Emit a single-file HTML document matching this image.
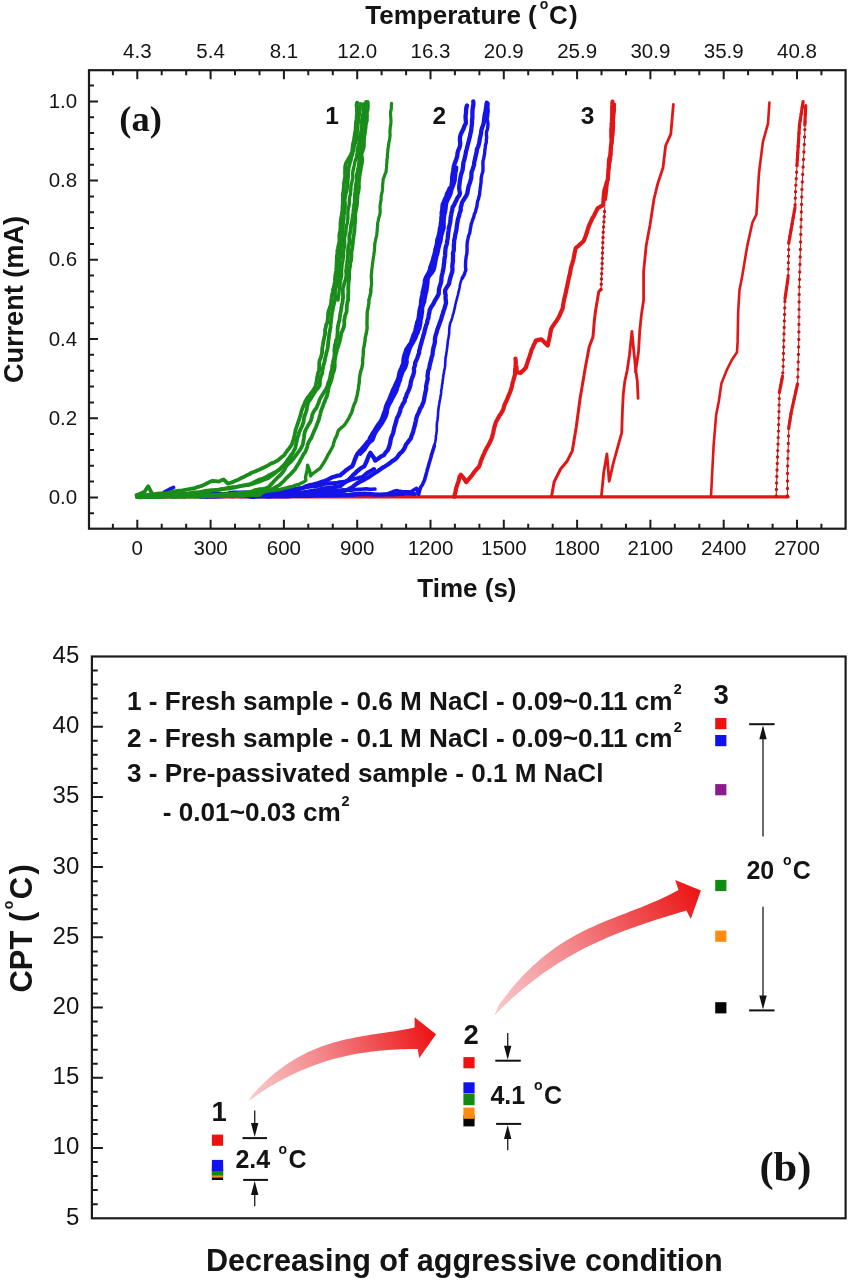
<!DOCTYPE html>
<html><head><meta charset="utf-8"><title>CPT figure</title>
<style>html,body{margin:0;padding:0;background:#fff;}body{width:848px;height:1280px;overflow:hidden;}svg{display:block;}</style>
</head><body>
<svg width="848" height="1280" viewBox="0 0 848 1280"><rect x="89.0" y="70.2" width="756.6" height="458.5" fill="none" stroke="#1c1c1c" stroke-width="2.2"/>
<path d="M112.9 528.7v-5M112.9 70.2v5M137.3 528.7v-9M137.3 70.2v9M161.7 528.7v-5M161.7 70.2v5M186.2 528.7v-5M186.2 70.2v5M210.6 528.7v-9M210.6 70.2v9M235.0 528.7v-5M235.0 70.2v5M259.5 528.7v-5M259.5 70.2v5M283.9 528.7v-9M283.9 70.2v9M308.3 528.7v-5M308.3 70.2v5M332.8 528.7v-5M332.8 70.2v5M357.2 528.7v-9M357.2 70.2v9M381.6 528.7v-5M381.6 70.2v5M406.1 528.7v-5M406.1 70.2v5M430.5 528.7v-9M430.5 70.2v9M454.9 528.7v-5M454.9 70.2v5M479.4 528.7v-5M479.4 70.2v5M503.8 528.7v-9M503.8 70.2v9M528.2 528.7v-5M528.2 70.2v5M552.7 528.7v-5M552.7 70.2v5M577.1 528.7v-9M577.1 70.2v9M601.5 528.7v-5M601.5 70.2v5M626.0 528.7v-5M626.0 70.2v5M650.4 528.7v-9M650.4 70.2v9M674.8 528.7v-5M674.8 70.2v5M699.3 528.7v-5M699.3 70.2v5M723.7 528.7v-9M723.7 70.2v9M748.1 528.7v-5M748.1 70.2v5M772.6 528.7v-5M772.6 70.2v5M797.0 528.7v-9M797.0 70.2v9M821.4 528.7v-5M821.4 70.2v5M89.0 513.2h5M89.0 497.4h9M89.0 481.6h5M89.0 465.7h5M89.0 449.9h5M89.0 434.0h5M89.0 418.2h9M89.0 402.4h5M89.0 386.5h5M89.0 370.7h5M89.0 354.8h5M89.0 339.0h9M89.0 323.2h5M89.0 307.3h5M89.0 291.5h5M89.0 275.6h5M89.0 259.8h9M89.0 244.0h5M89.0 228.1h5M89.0 212.3h5M89.0 196.4h5M89.0 180.6h9M89.0 164.8h5M89.0 148.9h5M89.0 133.1h5M89.0 117.2h5M89.0 101.4h9M89.0 85.6h5" stroke="#1c1c1c" stroke-width="2" fill="none"/>
<g style="font-family:'Liberation Sans',Arial,sans-serif;font-size:20.5px" fill="#141414"><text x="137.3" y="555.3" text-anchor="middle">0</text><text x="137.3" y="57.6" text-anchor="middle">4.3</text><text x="210.6" y="555.3" text-anchor="middle">300</text><text x="210.6" y="57.6" text-anchor="middle">5.4</text><text x="283.9" y="555.3" text-anchor="middle">600</text><text x="283.9" y="57.6" text-anchor="middle">8.1</text><text x="357.2" y="555.3" text-anchor="middle">900</text><text x="357.2" y="57.6" text-anchor="middle">12.0</text><text x="430.5" y="555.3" text-anchor="middle">1200</text><text x="430.5" y="57.6" text-anchor="middle">16.3</text><text x="503.8" y="555.3" text-anchor="middle">1500</text><text x="503.8" y="57.6" text-anchor="middle">20.9</text><text x="577.1" y="555.3" text-anchor="middle">1800</text><text x="577.1" y="57.6" text-anchor="middle">25.9</text><text x="650.4" y="555.3" text-anchor="middle">2100</text><text x="650.4" y="57.6" text-anchor="middle">30.9</text><text x="723.7" y="555.3" text-anchor="middle">2400</text><text x="723.7" y="57.6" text-anchor="middle">35.9</text><text x="797.0" y="555.3" text-anchor="middle">2700</text><text x="797.0" y="57.6" text-anchor="middle">40.8</text><text x="77.2" y="504.0" text-anchor="end">0.0</text><text x="77.2" y="424.8" text-anchor="end">0.2</text><text x="77.2" y="345.6" text-anchor="end">0.4</text><text x="77.2" y="266.4" text-anchor="end">0.6</text><text x="77.2" y="187.2" text-anchor="end">0.8</text><text x="77.2" y="108.0" text-anchor="end">1.0</text></g>
<g style="font-family:'Liberation Sans',Arial,sans-serif;font-weight:bold" fill="#141414"><text x="365.3" y="24.2" font-size="26">Temperature (</text><text x="539.7" y="8.9" font-size="14">o</text><text x="548.9" y="24.2" font-size="26">C</text><text x="569" y="24.2" font-size="26">)</text><text x="417.3" y="597.2" font-size="26">Time (s)</text><text transform="translate(23,383.1) rotate(-90)" x="0" y="0" font-size="27.1">Current (mA)</text></g>
<text x="119.3" y="131.3" style="font-family:'Liberation Serif','Times New Roman',serif;font-size:36.5px;font-weight:bold" fill="#141414">(a)</text>
<g style="font-family:'Liberation Sans',Arial,sans-serif;font-size:24.5px;font-weight:bold" fill="#141414"><text x="325.2" y="124.3">1</text><text x="432.5" y="124.3">2</text><text x="580.8" y="124.3">3</text></g>
<g><path d="M137.3 496.8 L788.1 496.8" stroke="#e21616" stroke-width="3.2" fill="none" stroke-linejoin="round" stroke-linecap="round" /><path d="M454.3 496.7 L454.8 494.3 L455.5 491.8 L455.9 489.4 L456.6 486.8 L457.4 484.3 L458.4 481.7 L459.0 479.4 L459.5 476.9 L460.9 474.7 L462.8 477.1 L464.6 479.5 L466.2 482.1 L467.8 480.1 L469.6 478.2 L471.2 476.2 L472.8 474.2 L474.1 472.2 L475.7 470.2 L477.4 468.5 L479.0 466.6 L480.1 464.0 L480.8 461.2 L482.0 458.4 L483.0 455.8 L484.2 453.3 L485.2 450.9 L486.6 448.2 L488.2 445.7 L489.5 443.0 L490.8 440.4 L491.9 437.8 L492.5 435.2 L493.2 432.7 L493.7 430.2 L494.3 427.5 L495.1 425.0 L495.8 422.3 L497.0 420.2 L498.2 418.0 L499.4 415.8 L500.9 413.7 L502.1 411.7 L503.3 409.4 L504.0 406.6 L504.9 403.9 L506.1 401.5 L507.3 398.9 L508.3 396.4 L509.4 393.8 L510.4 391.3 L511.4 388.6 L512.0 385.9 L512.5 383.2 L513.3 380.8 L513.9 378.3 L514.7 375.7 L515.1 373.0 L515.1 370.3 L515.4 367.5 L515.6 364.6 L515.8 361.5 L515.5 358.6 L515.7 361.4 L516.0 364.2 L516.4 366.8 L516.6 369.4 L516.5 371.9 L520.4 373.1 L523.1 370.4 L525.8 367.8 L526.6 365.1 L527.4 362.7 L528.2 360.1 L529.3 357.4 L530.1 354.7 L530.9 352.3 L531.5 350.0 L532.8 347.5 L533.7 345.1 L535.0 342.7 L535.8 340.6 L538.6 339.9 L541.3 339.3 L543.6 341.4 L545.6 343.5 L547.7 345.5 L548.3 342.6 L549.0 340.0 L549.6 337.3 L550.1 334.4 L550.6 331.6 L551.3 328.8 L552.5 326.6 L554.0 324.4 L555.3 322.4 L556.9 320.3 L558.1 318.2 L559.4 316.0 L560.5 313.2 L561.7 310.6 L562.8 308.0 L563.0 305.5 L563.5 302.8 L564.0 300.1 L564.7 297.3 L565.3 294.7 L565.9 292.0 L566.4 289.4 L567.0 286.9 L567.5 284.4 L568.1 281.7 L568.6 279.2 L569.1 276.7 L569.8 274.5 L570.2 272.1 L570.6 269.7 L571.1 267.2 L571.9 264.7 L572.7 262.2 L573.4 259.4 L574.0 256.5 L574.5 253.6 L575.1 250.7 L575.8 247.9 L577.9 246.4 L579.6 244.7 L581.5 243.0 L583.4 241.3 L584.5 238.8 L585.5 236.5 L586.3 234.1 L587.1 231.7 L587.8 229.2 L588.8 226.3 L589.9 223.6 L591.2 221.0 L592.3 218.4 L593.9 215.9 L595.2 213.2 L596.4 210.7 L597.7 208.3 L600.3 206.7 L603.2 205.1 L603.3 202.3 L603.5 199.5 L603.7 196.6 L604.0 193.6 L604.3 190.8 L605.1 188.2 L605.9 185.5 L606.6 182.8 L607.7 179.9 L608.0 177.3 L608.1 174.8 L608.3 172.3 L608.4 169.9 L608.8 167.4 L608.8 164.9 L608.9 162.2 L609.1 159.7 L609.7 157.2 L610.3 154.7 L610.5 152.2 L610.7 149.5 L610.8 147.0 L611.2 144.3 L611.4 141.9 L611.6 139.5 L611.3 136.9 L611.3 134.4 L611.3 131.9 L611.3 129.4 L611.6 127.0 L611.6 124.3 L611.9 121.7 L612.0 119.1 L612.1 116.5 L612.2 114.0 L612.2 111.6 L612.2 109.3 L612.2 106.8 L612.4 104.2 L612.5 101.7" stroke="#e21616" stroke-width="4.2" fill="none" stroke-linejoin="round" stroke-linecap="round" /><path d="M605.5 200.0 L606.0 197.4 L606.4 194.9 L606.6 192.4 L606.9 189.8 L607.2 187.2 L607.4 184.6 L607.7 182.0 L608.0 179.3 L608.2 176.6 L608.4 173.8 L608.7 171.0 L609.2 168.3 L609.7 165.5 L610.2 162.8 L610.8 160.0 L610.9 157.4 L611.3 155.0 L611.3 152.5 L611.4 150.1 L611.6 147.3 L611.9 144.9 L612.5 142.3 L612.6 140.0 L612.9 137.4 L613.2 135.0 L613.5 132.4 L613.6 130.0 L613.8 127.2 L613.8 124.8 L613.9 122.2 L613.7 119.7 L614.0 117.1 L614.3 114.4 L614.6 111.7 L614.8 109.1 L614.6 106.6 L614.8 104.0" stroke="#e21616" stroke-width="2.6" fill="none" stroke-linejoin="round" stroke-linecap="round" /><path d="M551.5 496.7 L554.1 482.0 L560.6 469.0 L567.1 461.2 L572.3 450.8 L576.2 427.5 L580.0 399.0 L585.3 367.8 L589.2 347.0 L593.0 336.7 L594.4 320.0 L595.5 311.3 L598.8 291.6 L601.0 289.4" stroke="#e21616" stroke-width="3.0" fill="none" stroke-linejoin="round" stroke-linecap="round" /><path d="M601.0 289.4 L602.0 267.5 L603.1 234.7 L604.8 207.4" stroke="#e21616" stroke-width="1.2" fill="none" stroke-linejoin="round" stroke-linecap="round" /><path d="M601.0 289.4 L602.0 267.5 L603.1 234.7 L604.8 207.4" stroke="#c81212" stroke-width="3.4" fill="none" stroke-linejoin="round" stroke-linecap="round" stroke-dasharray="0 5.2"/><path d="M601.4 496.0 L603.8 471.9 L606.9 453.9 L609.2 481.3 L613.1 464.0 L617.8 446.9 L621.7 432.8 L622.5 409.4 L623.3 393.8 L624.8 381.3 L627.2 370.3 L629.5 354.7 L631.9 331.3 L633.4 346.9 L635.8 370.3 L637.3 381.3 L638.1 398.4" stroke="#e21616" stroke-width="2.8" fill="none" stroke-linejoin="round" stroke-linecap="round" /><path d="M635.5 372.0 L638.5 352.0 L639.7 331.3 L641.3 315.6 L643.6 300.0 L643.6 271.6 L646.2 245.6 L650.0 224.9 L654.0 199.0 L657.8 183.4 L663.0 167.8 L665.6 145.8 L670.8 134.1 L673.4 104.3" stroke="#e21616" stroke-width="2.8" fill="none" stroke-linejoin="round" stroke-linecap="round" /><path d="M711.0 496.2 L713.6 445.6 L716.2 414.5 L718.8 401.5 L721.4 383.4 L726.6 370.4 L731.8 360.0 L737.0 352.3 L737.6 341.9 L738.2 310.8 L739.5 290.0 L742.1 276.8 L747.3 245.6 L752.5 222.3 L756.4 214.5 L759.0 173.0 L762.9 141.9 L768.0 123.7 L769.4 102.5" stroke="#e21616" stroke-width="2.6" fill="none" stroke-linejoin="round" stroke-linecap="round" /><path d="M776.2 496.0 L776.9 473.8 L778.5 430.0 L779.4 392.5 L782.5 376.2 L783.1 370.0 L783.8 340.0 L785.0 298.8 L788.1 277.5 L788.8 242.5 L795.0 207.5 L795.6 190.0 L797.0 165.0 L799.5 125.0 L803.1 101.7" stroke="#d41818" stroke-width="1.1" fill="none" stroke-linejoin="round" stroke-linecap="round" /><path d="M776.2 496.0 L776.9 473.8 L778.5 430.0 L779.4 392.5 L782.5 376.2 L783.1 370.0 L783.8 340.0 L785.0 298.8 L788.1 277.5 L788.8 242.5 L795.0 207.5 L795.6 190.0 L797.0 165.0 L799.5 125.0 L803.1 101.7" stroke="#c41414" stroke-width="3.3" fill="none" stroke-linejoin="round" stroke-linecap="round" stroke-dasharray="0 6.5"/><path d="M779.4 392.5 L782.5 376.2" stroke="#dc1616" stroke-width="3.2" fill="none" stroke-linejoin="round" stroke-linecap="round" /><path d="M785.0 298.8 L788.1 277.5" stroke="#dc1616" stroke-width="3.2" fill="none" stroke-linejoin="round" stroke-linecap="round" /><path d="M788.8 242.5 L795.0 207.5" stroke="#dc1616" stroke-width="3.2" fill="none" stroke-linejoin="round" stroke-linecap="round" /><path d="M797.0 165.0 L799.5 125.0 L803.1 101.7" stroke="#dc1616" stroke-width="3.2" fill="none" stroke-linejoin="round" stroke-linecap="round" /><path d="M787.5 496.0 L787.5 471.2 L788.8 427.5 L791.2 412.5 L797.5 383.8 L797.8 378.8 L798.8 340.0 L799.2 290.0 L800.5 245.6 L801.9 190.0 L804.4 141.9 L805.7 105.6" stroke="#d41818" stroke-width="1.1" fill="none" stroke-linejoin="round" stroke-linecap="round" /><path d="M787.5 496.0 L787.5 471.2 L788.8 427.5 L791.2 412.5 L797.5 383.8 L797.8 378.8 L798.8 340.0 L799.2 290.0 L800.5 245.6 L801.9 190.0 L804.4 141.9 L805.7 105.6" stroke="#c41414" stroke-width="3.3" fill="none" stroke-linejoin="round" stroke-linecap="round" stroke-dasharray="0 7.5"/><path d="M788.8 427.5 L791.2 412.5 L797.5 383.8" stroke="#dc1616" stroke-width="3.2" fill="none" stroke-linejoin="round" stroke-linecap="round" /><path d="M805.7 105.6 L804.8 125.0" stroke="#dc1616" stroke-width="3.2" fill="none" stroke-linejoin="round" stroke-linecap="round" /><path d="M140.0 496.0 L142.1 495.9 L144.7 495.6 L147.5 495.5 L149.7 495.3 L152.2 495.6 L154.5 495.6 L157.2 495.8 L159.7 495.4 L162.3 495.2 L165.5 495.1 L168.1 495.2 L170.6 495.4 L172.7 495.2 L175.0 495.1 L177.3 495.0 L179.8 494.9 L182.4 494.9 L184.8 494.9 L187.1 495.1 L189.4 495.0 L192.3 494.7 L195.2 494.4 L198.5 494.0 L200.7 494.2 L202.9 494.4 L204.9 494.6 L207.5 494.3 L210.1 493.9 L212.8 493.7 L215.1 493.7 L217.3 493.9 L220.0 494.0 L222.4 494.1 L225.5 493.9 L227.6 493.8 L230.2 493.2 L232.1 492.9 L234.5 492.6 L237.1 492.7 L240.0 492.7 L242.7 492.6 L245.1 492.7 L247.1 492.7 L249.7 492.6 L252.0 492.4 L254.7 492.3 L257.2 492.3 L259.8 492.2 L262.3 492.0 L264.7 491.6 L267.2 491.5 L269.8 491.1 L272.4 490.8 L274.9 490.5 L277.6 490.5 L280.4 490.4 L283.2 490.4 L285.4 490.1 L287.5 489.7 L289.9 489.4 L292.4 489.0 L295.3 489.0 L297.8 489.0 L300.4 488.9 L302.7 487.9 L305.4 486.6 L307.8 485.9 L310.3 485.1 L313.0 484.6 L315.7 483.9 L318.6 483.1 L321.3 482.1 L324.5 481.0 L327.3 479.9 L329.6 478.7 L332.1 477.3 L334.9 476.5 L337.8 475.6 L340.1 475.3 L341.8 473.8 L343.9 472.3 L345.8 470.4 L347.9 469.0 L349.9 467.6 L352.3 466.2 L353.3 463.9 L354.2 461.4 L355.1 458.8 L356.2 456.3 L357.4 453.9 L359.3 451.6 L361.6 449.3 L363.3 447.2 L365.3 444.9 L367.1 442.5 L369.3 440.2 L370.1 437.6 L371.6 435.4 L372.8 433.0 L374.5 430.9 L375.7 428.4 L377.7 425.4 L379.7 422.8 L381.4 420.1 L382.5 417.7 L383.4 414.8 L384.5 412.1 L385.2 409.8 L385.7 407.7 L386.4 405.5 L387.4 403.1 L388.8 400.6 L389.8 398.2 L390.8 395.4 L391.9 392.8 L392.9 390.1 L394.2 387.8 L395.1 385.5 L396.2 383.1 L397.4 380.6 L398.4 378.1 L398.9 375.6 L399.5 372.8 L400.3 370.4 L401.5 367.9 L402.3 365.9 L403.3 363.2 L403.4 360.3 L403.9 357.4 L404.5 354.8 L405.6 352.2 L406.2 349.7 L407.8 347.4 L409.3 345.0 L411.2 342.7 L411.6 340.5 L412.5 338.2 L413.3 335.5 L414.6 333.0 L415.3 330.5 L415.8 328.3 L416.5 325.8 L417.0 323.2 L417.9 320.5 L418.7 317.9 L419.0 315.3 L419.3 312.7 L419.6 310.1 L420.3 307.3 L420.9 304.9 L421.0 302.6 L421.3 300.1 L421.8 297.3 L422.4 294.6 L422.7 291.9 L423.4 289.7 L424.0 286.7 L424.7 283.6 L424.9 280.6 L425.8 277.7 L427.3 275.1 L428.9 272.3 L429.9 269.7 L430.3 267.3 L431.3 264.9 L432.0 262.5 L433.0 259.8 L433.5 257.2 L434.4 254.6 L434.9 252.2 L435.4 249.5 L436.2 246.9 L436.8 244.5 L437.1 242.0 L437.4 239.6 L438.3 236.9 L439.0 234.2 L439.6 231.2 L439.9 228.5 L440.7 225.9 L440.8 223.3 L441.4 220.4 L441.3 217.9 L441.8 215.5 L441.6 213.0 L442.2 210.1 L442.4 207.5 L442.6 204.7 L443.8 202.2 L444.8 199.4 L446.4 196.7 L446.9 193.8 L448.5 191.2 L449.5 188.6 L451.5 186.2 L451.7 183.6 L452.1 181.0 L452.1 178.5 L452.3 175.9 L452.8 173.2 L453.3 170.6 L453.5 168.1 L454.0 165.8 L454.8 163.1 L455.8 160.7 L456.6 158.3 L457.3 155.7 L457.5 153.1 L458.2 150.5 L459.1 148.6 L460.0 145.8 L460.2 142.9 L459.9 139.9 L460.0 137.2 L460.7 134.4 L462.1 131.5 L463.6 128.5 L464.4 126.0 L465.9 123.2 L465.8 120.6 L465.6 118.0 L465.6 115.5 L466.0 112.9 L466.1 110.2 L466.3 107.8 L467.0 105.5" stroke="#1414e8" stroke-width="4.3" fill="none" stroke-linejoin="round" stroke-linecap="round" /><path d="M360.3 453.7 L362.3 451.4 L364.4 449.5 L366.0 446.9 L367.8 444.2 L370.0 441.7 L372.4 439.8 L373.4 437.5 L374.2 435.1 L375.3 432.6 L376.9 430.1 L378.6 427.9 L380.6 425.0 L382.4 422.3 L384.0 419.4 L385.2 417.3 L386.1 415.0 L386.8 412.5 L387.0 409.7 L388.0 407.1 L389.0 404.5 L390.3 402.2 L391.5 399.9 L392.7 397.4 L394.0 395.1 L395.4 392.5 L396.6 390.0 L397.2 387.5 L398.3 385.0 L398.8 382.7 L400.0 380.1 L400.4 377.6 L401.5 374.8 L402.2 372.6 L403.4 370.3 L404.9 367.9 L405.9 365.2 L406.7 362.2 L406.4 359.6 L407.0 357.0 L407.6 354.7 L408.5 352.1 L409.3 349.3 L410.5 346.4 L411.7 344.3 L413.1 342.1 L414.2 339.9 L415.7 337.3 L416.4 334.7 L417.6 332.8 L418.1 330.5 L419.2 328.4 L419.9 325.5 L420.4 322.4 L420.6 319.7 L421.3 316.9 L421.6 314.5 L422.1 311.6 L422.0 309.1 L422.4 306.5 L423.1 304.5 L424.1 302.0 L424.5 299.2 L425.0 296.6 L425.4 294.4 L426.1 292.0 L426.6 289.3 L427.0 286.1 L427.4 283.1 L427.6 280.2 L428.0 277.4 L429.8 275.0 L431.8 272.6 L433.6 269.8 L434.3 267.2 L434.8 264.3 L435.3 261.7 L435.8 259.1 L436.4 256.4 L437.2 254.0 L437.7 251.8 L438.1 249.6 L438.7 247.0 L439.4 244.2 L440.4 241.4 L440.8 238.6 L441.1 235.9 L442.0 233.2 L442.8 230.4 L443.7 227.6 L443.7 225.1 L443.6 222.6 L443.7 220.1 L443.9 217.6 L444.2 215.0 L444.9 212.4 L445.4 209.7 L445.7 207.0 L446.0 204.0 L446.8 201.3 L448.1 198.7 L449.2 196.5 L450.4 193.9 L451.0 191.4 L451.7 188.8 L452.9 185.9 L453.8 183.2 L454.7 180.4 L454.8 178.0 L455.1 175.2 L455.3 172.8 L455.9 170.4 L456.2 167.6" stroke="#1414e8" stroke-width="4.3" fill="none" stroke-linejoin="round" stroke-linecap="round" /><path d="M160.0 496.0 L162.2 496.3 L164.9 496.0 L167.5 495.9 L170.1 495.7 L172.7 495.7 L175.3 495.6 L177.7 495.6 L180.0 495.7 L181.9 495.6 L184.4 495.8 L187.3 495.7 L190.2 495.7 L193.0 495.6 L195.8 495.7 L198.4 495.8 L200.8 495.8 L203.3 495.9 L205.5 495.8 L207.8 495.9 L210.2 495.5 L212.6 495.3 L215.2 495.3 L217.9 495.4 L220.5 495.5 L223.0 495.5 L225.1 495.3 L227.9 495.3 L230.4 495.4 L233.1 495.6 L235.3 495.5 L237.9 495.3 L240.4 495.2 L242.7 495.3 L245.0 495.3 L247.3 495.3 L249.8 495.2 L252.6 495.0 L255.4 495.0 L257.8 494.9 L260.3 494.7 L262.3 494.6 L264.8 494.5 L267.1 494.4 L269.9 494.2 L272.4 493.8 L274.4 493.8 L277.2 493.7 L279.7 493.7 L282.6 493.5 L285.0 493.3 L287.4 493.2 L289.8 493.1 L292.2 493.0 L294.9 493.1 L297.6 493.0 L300.1 493.0 L302.6 492.6 L305.0 492.1 L307.7 491.9 L310.2 491.2 L312.7 491.0 L314.9 490.4 L317.4 490.0 L320.3 489.4 L322.5 488.9 L325.2 488.4 L327.7 487.9 L330.6 487.6 L333.0 487.3 L335.6 486.9 L338.1 486.5 L340.5 486.1 L342.0 484.6 L344.0 483.0 L346.2 481.5 L348.4 480.0 L350.2 478.2 L352.1 476.3 L353.5 474.6 L355.5 473.0 L356.8 471.5 L359.3 469.5 L361.4 467.8 L364.3 466.3 L365.6 463.6 L366.8 461.0 L367.9 458.1 L368.9 455.5 L370.4 452.8 L372.0 455.3 L374.0 457.9 L375.2 460.6 L378.0 458.7 L380.7 456.7 L383.9 455.1 L385.5 452.6 L387.8 450.1 L389.0 447.1 L390.1 443.5 L390.6 440.1 L391.2 437.6 L392.3 435.2 L393.2 432.6 L393.8 430.3 L394.2 427.8 L395.0 425.3 L395.7 423.0 L396.4 420.6 L396.9 418.1 L398.4 415.7 L399.1 413.7 L400.2 411.1 L400.6 408.5 L402.0 405.9 L403.0 403.7 L404.7 401.2 L405.0 398.8 L406.2 396.6 L406.7 394.2 L407.9 391.9 L409.0 389.6 L409.8 387.2 L410.5 384.6 L410.9 381.8 L411.7 379.0 L412.8 376.3 L413.6 373.8 L414.1 371.3 L413.9 368.4 L414.9 365.6 L415.2 362.6 L416.4 360.2 L417.4 357.7 L418.2 355.3 L419.1 352.9 L419.2 350.6 L419.9 348.3 L420.4 345.9 L421.3 343.2 L422.0 340.5 L422.7 338.1 L423.3 335.8 L424.2 333.3 L424.6 330.9 L425.4 328.2 L426.0 325.7 L427.1 323.2 L427.4 320.6 L428.5 317.7 L428.7 315.1 L429.4 312.4 L429.7 309.9 L431.2 307.1 L433.0 304.6 L434.3 301.8 L435.8 299.1 L437.4 296.5 L438.7 294.1 L438.8 291.6 L439.0 289.0 L439.8 286.2 L440.7 283.5 L441.3 280.8 L441.4 278.3 L441.8 275.5 L442.5 273.0 L443.1 270.0 L443.7 267.3 L443.8 264.6 L444.3 262.2 L444.3 259.9 L444.8 257.5 L445.1 255.2 L445.2 252.5 L445.4 250.0 L445.8 247.0 L446.8 244.1 L447.2 241.1 L447.7 238.3 L448.0 235.6 L448.2 233.2 L448.6 230.5 L448.9 227.7 L449.6 225.0 L450.1 222.6 L450.5 220.0 L450.6 217.6 L451.1 215.1 L451.5 212.8 L452.2 210.1 L452.6 207.3 L454.2 205.0 L455.0 202.8 L456.2 200.7 L457.2 198.2 L459.0 195.8 L460.0 193.4 L459.5 190.6 L459.1 187.9 L459.4 185.1 L459.7 182.2 L460.1 179.5 L460.6 176.6 L461.3 173.8 L462.3 171.1 L462.8 168.5 L463.1 165.5 L463.4 162.7 L464.4 159.5 L465.0 156.6 L465.7 153.8 L466.0 151.5 L466.7 149.3 L467.3 146.5 L468.0 144.0 L468.7 141.3 L469.3 138.8 L470.0 136.1 L470.4 133.7 L471.1 131.1 L471.4 128.2 L471.8 125.3 L472.0 122.8 L472.0 120.4 L472.4 117.8 L472.4 115.1 L472.4 112.2 L472.6 109.3 L473.0 106.8 L473.4 103.9 L473.3 101.3" stroke="#1414e8" stroke-width="4.3" fill="none" stroke-linejoin="round" stroke-linecap="round" /><path d="M200.0 496.5 L202.6 496.6 L204.8 496.5 L207.0 496.9 L209.8 496.7 L212.8 496.5 L215.3 496.5 L217.7 496.3 L220.0 496.3 L222.2 496.1 L224.7 495.8 L227.3 495.9 L230.1 495.8 L232.8 496.0 L235.1 495.8 L237.6 495.9 L239.9 496.0 L242.9 496.2 L245.6 496.2 L248.2 496.2 L250.1 496.0 L252.4 495.8 L254.5 495.7 L257.7 495.5 L259.9 495.6 L262.7 495.5 L265.3 495.3 L267.5 495.1 L270.1 495.2 L272.0 495.6 L274.7 495.5 L277.1 495.4 L279.9 495.1 L282.5 495.2 L285.2 495.3 L287.7 495.2 L289.9 495.2 L292.6 495.0 L295.0 495.2 L297.5 495.2 L299.5 495.3 L302.3 494.8 L305.4 494.4 L308.0 494.0 L310.4 493.8 L312.8 493.9 L315.7 493.8 L318.2 493.5 L320.9 493.1 L323.1 492.6 L325.5 492.4 L328.0 492.2 L330.9 492.0 L333.6 491.6 L336.2 491.5 L338.6 491.2 L341.3 491.2 L344.0 491.0 L346.8 490.1 L349.6 488.6 L352.1 487.4 L354.2 485.6 L355.9 484.3 L358.4 482.6 L360.9 481.2 L363.9 479.8 L365.8 478.7 L368.0 477.5 L370.2 476.1 L372.5 474.5 L375.2 472.8 L377.9 471.1 L380.4 469.3 L382.6 467.7 L385.1 466.3 L387.5 464.8 L389.9 463.1 L392.2 461.1 L395.2 459.3 L397.1 457.4 L398.3 455.6 L399.8 453.6 L402.1 451.6 L403.8 449.4 L405.0 447.2 L405.9 444.7 L407.7 442.5 L409.1 440.4 L410.8 438.6 L411.4 436.2 L412.5 433.6 L413.3 431.1 L413.9 428.6 L414.7 425.9 L415.4 423.1 L415.9 420.6 L416.3 418.3 L417.1 415.8 L418.3 413.4 L419.3 411.1 L420.1 408.8 L421.7 406.4 L422.7 403.8 L423.7 401.5 L424.1 399.1 L424.5 396.9 L425.0 394.1 L425.6 391.6 L426.2 388.9 L426.1 386.4 L426.6 383.8 L427.1 381.3 L427.8 378.9 L427.5 376.4 L427.8 373.7 L428.1 371.0 L429.2 368.5 L429.6 365.8 L430.2 363.2 L431.0 360.4 L431.6 357.5 L432.6 354.6 L432.7 351.8 L433.2 349.2 L433.7 346.8 L434.5 344.2 L434.9 341.9 L434.9 339.4 L435.2 337.3 L435.8 334.8 L436.7 332.3 L437.3 329.6 L438.4 326.9 L439.3 324.3 L440.2 321.7 L441.2 318.9 L442.0 316.2 L442.8 313.6 L443.5 311.1 L444.4 308.7 L445.3 305.7 L446.0 303.0 L445.8 300.2 L445.5 297.9 L445.7 295.5 L445.2 293.0 L445.1 290.3 L446.3 288.1 L447.7 285.9 L449.1 283.6 L449.6 280.6 L450.4 277.6 L451.2 274.8 L452.2 272.0 L452.5 269.3 L452.3 266.7 L452.5 263.9 L453.0 261.2 L452.9 258.3 L453.1 255.8 L452.9 253.3 L453.7 250.9 L453.9 248.1 L453.8 245.5 L454.1 242.7 L454.2 240.1 L454.9 237.6 L455.2 235.1 L455.8 232.5 L456.5 229.6 L456.7 226.8 L457.1 224.1 L457.6 221.7 L458.0 219.0 L459.0 216.1 L459.6 213.2 L460.7 210.4 L460.7 207.6 L461.5 205.0 L461.9 202.8 L463.2 200.5 L464.6 198.3 L466.3 195.8 L467.3 193.3 L467.8 190.5 L468.3 187.7 L469.0 185.2 L470.0 182.6 L470.6 180.2 L471.3 177.4 L471.4 174.7 L471.6 172.0 L472.6 169.5 L473.3 167.1 L474.1 164.8 L474.2 162.4 L474.8 159.9 L475.4 157.2 L476.0 154.5 L476.6 152.2 L476.9 149.3 L478.1 146.9 L478.9 144.0 L479.5 141.5 L479.8 138.7 L480.5 136.1 L481.0 133.4 L481.3 130.6 L482.0 128.1 L483.0 125.5 L483.7 123.0 L484.0 120.4 L484.3 117.9 L484.6 115.3 L485.2 112.8 L485.6 110.5 L486.1 107.7 L486.4 105.1 L486.7 102.7" stroke="#1414e8" stroke-width="4.3" fill="none" stroke-linejoin="round" stroke-linecap="round" /><path d="M250.0 497.0 L252.6 497.1 L254.4 497.1 L257.1 496.8 L259.8 496.6 L263.1 496.6 L265.4 496.8 L267.5 496.9 L269.6 496.9 L271.8 496.7 L274.7 496.6 L277.4 496.5 L280.6 496.6 L283.0 496.5 L285.2 496.6 L287.7 496.6 L290.1 496.5 L292.9 496.3 L295.2 496.1 L297.3 496.2 L299.8 496.3 L302.5 496.1 L305.0 496.1 L307.6 496.0 L310.1 496.1 L312.9 495.9 L315.2 495.8 L317.7 495.8 L320.4 495.8 L322.8 495.6 L325.5 495.8 L327.8 495.6 L330.4 495.8 L332.9 495.4 L335.4 495.7 L337.9 495.3 L340.0 495.5 L342.9 495.0 L345.8 494.7 L348.8 494.6 L351.6 494.2 L354.3 493.9 L357.1 493.6 L359.6 493.4 L361.8 493.5 L364.3 493.4 L367.2 493.6 L369.7 493.5 L372.0 493.9 L374.5 494.3 L377.6 494.6 L380.4 494.7 L382.5 494.5 L384.9 494.3 L387.2 494.1 L389.8 493.0 L391.9 492.1 L394.1 491.3 L396.3 490.6 L398.5 491.1 L401.8 491.5 L404.8 491.7 L408.2 491.7 L410.8 492.0 L413.7 490.0 L416.6 488.3 L417.6 491.4 L418.7 494.5 L419.2 492.1 L419.9 489.6 L420.7 487.1 L422.4 484.8 L423.6 482.1 L424.6 479.7 L425.3 477.2 L426.0 474.7 L426.7 472.1 L427.3 469.6 L428.2 466.7 L429.0 463.7 L429.9 460.7 L430.8 457.8 L431.5 454.9 L432.4 452.1 L433.3 449.2 L434.3 445.9" stroke="#1414e8" stroke-width="3.6" fill="none" stroke-linejoin="round" stroke-linecap="round" /><path d="M434.3 445.9 L435.2 442.1 L435.8 438.7 L435.9 436.0 L436.4 433.3 L436.8 430.5 L436.8 428.0 L436.8 425.3 L437.0 422.7 L437.5 420.0 L437.8 417.5 L438.0 414.7 L438.1 412.1 L438.4 409.5 L438.7 406.9 L439.2 404.2 L439.6 401.4 L440.2 398.7 L440.6 395.9 L441.1 393.4 L441.2 390.7 L441.7 388.0 L442.0 385.3 L442.5 382.8 L442.7 380.5 L443.1 377.9 L443.4 375.3 L443.9 372.8 L444.3 370.3 L444.8 367.9 L445.2 365.4 L445.2 363.0 L445.4 360.5 L445.5 358.1 L446.1 355.4 L446.4 352.9 L446.8 350.4 L447.1 348.0 L447.4 345.5 L447.7 343.0 L447.9 340.5 L448.5 338.1 L448.8 335.6 L449.2 333.3 L449.2 330.6 L449.4 328.1 L449.7 325.4 L450.3 323.0 L451.3 320.5 L452.2 317.8 L452.8 315.2 L453.7 312.4 L454.3 309.8 L454.9 307.4 L455.3 304.9 L455.9 302.5 L456.6 299.9 L457.2 297.4 L457.9 295.0 L458.4 292.6 L459.0 290.2 L459.6 287.7 L459.9 285.2 L460.5 282.8 L461.2 280.4 L462.3 278.0" stroke="#1414e8" stroke-width="2.6" fill="none" stroke-linejoin="round" stroke-linecap="round" /><path d="M462.3 278.0 L464.0 275.2 L464.9 272.5 L465.9 269.8 L465.5 267.4 L465.5 264.7 L465.6 262.2 L465.9 259.2 L466.2 256.5 L466.8 253.8 L467.0 251.3 L467.1 248.7 L467.0 246.0 L467.2 243.3 L467.5 240.8 L468.1 238.3 L468.6 235.8 L469.8 232.9 L470.2 229.9 L470.7 227.0 L471.2 224.1 L472.1 221.6 L472.8 219.3 L473.8 216.8 L474.3 214.2 L475.5 211.7 L476.0 209.4 L476.8 207.0 L477.1 204.4 L477.5 201.8 L478.4 199.0 L478.9 196.8 L479.6 194.6 L479.7 192.1 L480.1 189.4 L480.4 186.9 L480.7 184.6 L481.1 182.1 L481.1 179.5 L481.4 177.0 L481.9 174.5 L482.8 171.8 L483.0 168.9 L483.0 166.2 L482.9 163.7 L483.0 161.1 L483.7 158.4 L484.2 155.6 L484.7 153.0 L484.8 150.4 L485.2 147.7 L485.5 144.9 L486.3 142.5 L486.3 140.1 L486.7 137.5 L486.4 134.8 L486.5 132.0 L487.3 129.6 L487.8 126.8 L488.0 124.2 L487.7 121.7 L487.1 119.0 L487.6 116.5 L487.8 113.8 L488.2 111.2 L488.0 108.4 L487.9 106.0 L488.1 103.4" stroke="#1414e8" stroke-width="3.4" fill="none" stroke-linejoin="round" stroke-linecap="round" /><path d="M300.0 495.5 L302.8 495.4 L304.8 495.4 L307.3 495.4 L309.7 495.3 L312.1 495.1 L314.8 494.9 L317.5 494.8 L320.3 494.9 L322.8 494.7 L325.5 494.6 L327.8 494.4 L330.3 494.2 L332.5 494.1 L334.8 494.0 L336.9 494.1 L339.4 494.4 L342.1 494.9 L345.0 495.2 L347.6 495.1 L349.8 495.1 L352.1 495.0 L354.4 494.9 L357.3 494.4 L359.9 494.5 L362.7 494.3 L364.8 494.2 L367.1 494.0 L369.4 494.2 L372.1 494.4 L374.9 494.5 L377.2 494.5 L379.8 494.6 L382.1 494.5 L384.8 494.4 L387.1 494.3 L389.7 494.5 L392.4 494.4 L395.1 494.4 L397.8 494.1 L400.1 494.1 L402.5 494.1 L405.0 493.8 L407.8 493.8 L410.3 493.8 L412.4 494.1 L415.0 494.0" stroke="#1414e8" stroke-width="4.0" fill="none" stroke-linejoin="round" stroke-linecap="round" /><path d="M164.2 492.1 L169.0 489.5 L173.6 487.4" stroke="#1414e8" stroke-width="3.6" fill="none" stroke-linejoin="round" stroke-linecap="round" /><path d="M250.0 495.0 L252.3 494.2 L255.6 494.0 L258.5 493.9 L261.0 493.6 L263.2 493.5 L265.7 493.3 L268.1 493.1 L270.6 492.6 L272.9 492.2 L274.9 491.7 L276.7 491.4 L279.4 490.9 L282.4 490.6 L285.2 490.4 L287.1 490.4 L289.4 490.0 L291.9 489.5 L294.7 489.1 L297.1 488.7 L300.1 488.3 L303.1 487.9 L305.9 487.4 L308.0 487.0 L310.1 486.4 L312.4 486.2 L315.0 486.1 L317.4 485.9 L319.9 485.4 L322.6 484.5 L325.0 483.9 L327.4 483.5 L329.9 483.3 L332.8 483.2 L335.5 482.9 L337.4 482.7 L339.5 482.3 L342.3 482.0 L344.4 481.8 L347.2 481.0 L349.3 480.3 L352.2 479.4 L354.1 478.9 L356.9 478.4 L359.4 477.7 L362.4 477.0 L364.7 475.1 L366.7 473.3 L369.0 471.8 L371.4 470.5 L374.0 469.0" stroke="#1414e8" stroke-width="4.0" fill="none" stroke-linejoin="round" stroke-linecap="round" /><path d="M262.0 496.0 L264.6 496.1 L267.3 495.9 L269.8 495.6 L272.0 495.2 L275.1 495.1 L277.6 494.8 L280.3 494.8 L282.6 494.4 L284.7 494.3 L287.4 494.2 L290.0 494.0 L293.0 493.9 L295.5 493.8 L297.6 493.9 L300.0 493.8 L302.1 493.7 L304.9 493.2 L307.2 492.9 L309.8 492.6 L312.4 492.6 L315.5 492.4 L318.4 492.2 L320.7 492.0 L322.7 491.7 L324.7 491.3 L327.1 490.9 L329.8 490.8 L332.7 490.7 L335.3 490.6 L337.9 490.4 L340.1 490.2 L342.7 489.9 L345.6 490.0 L348.7 490.2 L351.5 490.4 L353.8 489.7 L356.2 489.5 L358.7 489.3 L361.1 489.3 L363.9 489.0 L366.5 488.9 L369.6 489.2 L371.9 489.2 L375.0 489.0" stroke="#1414e8" stroke-width="3.6" fill="none" stroke-linejoin="round" stroke-linecap="round" /><path d="M136.5 495.0 L139.1 494.3 L141.8 493.0 L144.4 491.8 L146.4 488.9 L148.3 486.2 L149.6 488.9 L150.9 491.6 L152.4 494.1 L155.4 493.9 L157.8 493.6 L160.4 493.5 L162.5 493.5 L165.3 493.3 L168.5 492.8 L171.0 492.2 L173.4 491.5 L176.3 491.1 L179.5 490.7 L182.5 490.4 L185.0 489.9 L188.3 489.3 L191.3 488.7 L194.0 488.4 L196.4 487.4 L199.2 486.6 L202.4 485.6 L204.8 484.5 L207.1 483.3 L209.7 481.9 L212.5 480.8 L215.6 481.1 L218.8 481.6 L221.1 480.4 L223.6 479.5 L225.7 481.5 L228.0 483.6 L230.5 482.7 L233.2 481.9 L235.3 480.8 L238.1 479.7 L240.2 478.6 L243.5 477.1 L246.1 475.6 L249.2 474.3 L251.3 472.9 L253.7 472.0 L256.2 470.9 L259.1 469.8 L262.2 468.3 L264.4 467.3 L267.0 466.0 L268.8 464.9 L270.5 463.7 L272.6 462.9 L275.0 461.9 L277.9 460.3 L280.1 458.5 L282.1 456.8 L284.2 455.3 L285.6 453.0 L287.3 450.6 L289.1 448.3 L291.1 445.8 L292.2 443.5 L292.9 441.1 L293.8 438.5 L294.4 435.8 L295.1 432.7 L295.5 430.1 L296.4 427.5 L297.3 424.8 L298.2 422.2 L299.2 419.4 L299.9 416.9 L300.8 414.3 L301.3 411.7 L302.1 409.3 L303.0 406.9 L304.2 404.2 L305.3 401.4 L306.7 399.1 L308.2 396.9 L309.8 394.8 L311.6 392.5 L313.0 390.5 L314.4 388.2 L315.7 386.0 L316.1 383.4 L316.7 380.9 L316.9 378.6 L317.4 376.2 L317.9 373.4 L319.0 370.8 L319.2 368.0 L319.2 365.7 L319.2 363.0 L319.6 360.5 L320.7 357.9 L321.4 355.3 L322.1 352.7 L322.1 350.3 L322.3 347.9 L322.8 345.3 L323.2 342.7 L323.7 340.1 L324.2 337.6 L324.8 335.2 L325.2 332.6 L325.0 330.1 L325.8 327.5 L326.1 325.0 L327.3 322.5 L327.6 320.2 L328.0 317.6 L328.0 315.1 L328.2 312.5 L328.9 310.1 L329.9 307.5 L330.6 305.2 L331.2 302.6 L331.2 300.2 L331.7 297.3 L332.0 294.9 L332.7 292.1 L333.0 289.7 L333.8 287.1 L334.3 284.7 L334.8 282.0 L335.0 279.1 L335.2 276.3 L335.6 273.5 L336.1 271.0 L336.4 268.3 L336.5 266.0 L336.6 263.2 L336.7 260.7 L336.9 258.2 L336.9 255.8 L337.4 253.3 L337.4 250.5 L337.9 248.3 L338.4 245.8 L339.0 243.6 L339.5 240.9 L339.4 238.4 L339.3 235.8 L339.6 233.2 L340.1 230.8 L340.5 228.2 L340.5 225.6 L340.5 222.9 L340.8 220.4 L341.2 217.8 L341.7 215.2 L342.0 212.7 L342.5 210.1 L342.4 207.6 L342.7 205.0 L342.8 202.2 L342.8 199.7 L342.9 197.0 L342.8 194.6 L343.3 192.1 L343.6 189.4 L343.9 186.6 L343.8 183.9 L344.3 181.3 L344.8 178.7 L345.2 176.1 L345.0 173.2 L345.1 170.5 L345.1 167.6 L345.4 165.2 L346.2 162.8 L347.6 160.6 L348.8 158.2 L350.2 156.1 L351.2 153.9 L352.2 151.6 L352.4 148.9 L352.7 146.1 L353.1 143.4 L353.8 141.0 L354.2 138.4 L354.6 135.7 L355.0 132.6 L355.6 130.0 L355.7 127.5 L355.8 125.2 L355.9 122.7 L356.4 120.0 L356.7 117.8 L356.8 115.2 L357.0 113.0 L356.9 110.3 L356.9 107.9 L356.5 105.0 L357.1 102.7" stroke="#1a8c1a" stroke-width="3.8" fill="none" stroke-linejoin="round" stroke-linecap="round" /><path d="M137.0 497.0 L139.4 497.1 L142.0 497.1 L144.6 497.0 L147.4 496.6 L149.8 496.1 L152.6 496.0 L155.3 495.9 L158.0 495.9 L160.2 495.5 L162.4 494.9 L164.5 494.7 L167.0 494.5 L169.1 494.8 L172.1 494.6 L174.8 494.4 L177.9 494.1 L180.2 494.0 L182.6 493.7 L185.2 493.7 L187.7 493.7 L189.9 493.6 L192.7 493.3 L195.1 493.0 L198.0 492.6 L200.0 492.6 L202.3 492.3 L205.0 491.9 L207.6 491.4 L210.2 490.6 L212.4 490.3 L215.3 490.1 L217.4 490.0 L220.1 489.7 L222.4 489.1 L225.6 488.7 L227.5 488.5 L230.1 488.5 L232.7 487.8 L235.4 487.4 L237.7 486.7 L239.8 486.1 L242.2 485.6 L245.0 485.2 L247.6 484.7 L250.1 484.0 L252.7 482.9 L255.0 481.7 L257.4 480.6 L260.3 479.3 L263.0 478.5 L266.2 477.1 L268.2 475.8 L270.7 474.5 L272.9 473.3 L275.1 472.3 L277.4 470.9 L279.6 469.7 L281.3 467.7 L283.2 465.8 L285.2 463.8 L286.6 461.8 L287.8 459.6 L289.1 457.8 L290.9 455.3 L292.8 453.1 L293.9 450.4 L295.3 448.2 L295.8 445.5 L296.3 442.8 L296.9 440.2 L297.3 437.7 L298.5 435.2 L299.0 432.9 L300.0 430.3 L301.2 427.9 L302.4 425.3 L303.3 422.7 L303.8 419.9 L304.1 417.4 L305.1 414.6 L306.0 412.0 L306.8 409.4 L307.0 407.0 L307.7 404.3 L308.6 401.5 L310.6 399.0 L311.8 397.1 L313.1 394.9 L314.4 392.8 L316.1 390.3 L317.9 388.1 L319.5 385.9 L319.9 383.4 L319.9 381.0 L320.3 378.3 L321.0 375.9 L322.3 373.2 L322.3 370.9 L322.9 368.2 L323.3 365.6 L324.2 362.8 L324.8 360.5 L325.2 357.9 L325.9 355.2 L326.5 352.5 L327.2 349.9 L327.8 347.4 L328.0 345.2 L328.2 342.5 L328.5 340.1 L328.9 337.4 L329.1 335.1 L329.5 332.5 L330.0 330.1 L330.5 327.6 L330.6 324.9 L330.9 322.2 L331.2 319.8 L331.5 317.4 L331.7 314.9 L332.0 312.4 L332.7 309.9 L333.0 307.5 L333.7 305.0 L334.3 302.5 L335.0 299.8 L335.3 297.3 L335.0 294.7 L335.0 292.2 L335.1 289.2 L336.2 286.5 L337.0 284.0 L337.7 281.6 L338.0 279.0 L338.2 276.3 L338.6 273.6 L338.7 270.7 L339.0 268.2 L339.1 265.7 L339.1 263.5 L339.2 260.9 L339.9 258.7 L340.3 256.2 L340.2 253.8 L340.4 251.0 L340.7 248.4 L341.4 246.0 L341.3 243.7 L341.6 240.9 L342.1 238.3 L342.3 235.8 L342.6 233.5 L342.6 231.0 L342.7 228.4 L342.9 225.7 L343.1 223.0 L343.4 220.6 L343.8 218.1 L343.7 215.6 L344.3 212.8 L344.4 210.1 L345.0 207.5 L344.9 204.9 L344.9 202.4 L344.6 199.9 L345.1 197.3 L345.6 194.3 L346.5 191.4 L347.0 188.6 L347.4 186.0 L347.5 183.6 L347.7 180.8 L347.9 178.0 L348.2 175.0 L348.0 172.7 L348.5 170.2 L348.6 167.4 L349.5 164.8 L349.9 162.4 L350.8 160.3 L351.2 157.7 L352.1 155.3 L352.7 152.6 L353.3 150.2 L353.7 147.7 L354.4 145.2 L355.3 142.6 L356.1 140.1 L356.6 137.5 L357.0 135.0 L356.9 132.3 L357.1 130.0 L357.1 127.6 L357.6 124.9 L358.2 122.3 L358.5 119.5 L358.7 116.8 L359.1 114.5 L359.4 111.9 L359.9 109.2 L359.7 106.4 L360.5 104.0" stroke="#1a8c1a" stroke-width="3.8" fill="none" stroke-linejoin="round" stroke-linecap="round" /><path d="M137.0 497.0 L139.6 497.1 L142.4 497.0 L144.5 496.8 L147.2 496.5 L149.5 496.4 L152.4 496.3 L155.1 496.2 L157.2 496.1 L160.0 496.2 L162.2 496.3 L164.9 496.2 L167.0 496.1 L169.7 496.2 L172.1 496.3 L175.0 496.4 L177.5 496.1 L180.3 495.9 L182.2 495.6 L184.8 495.5 L187.1 495.3 L190.0 495.4 L192.4 495.4 L195.1 495.5 L197.5 495.3 L200.0 495.2 L202.4 495.3 L205.0 495.4 L207.5 495.6 L209.9 495.5 L212.5 495.4 L214.8 495.3 L217.8 495.0 L220.4 494.8 L223.4 494.5 L225.5 494.5 L227.5 494.5 L229.4 494.3 L231.8 493.9 L234.4 493.7 L237.1 493.3 L239.7 492.9 L242.5 492.7 L244.6 492.5 L247.5 492.4 L249.8 492.0 L252.9 491.1 L254.8 490.2 L257.6 489.5 L259.9 489.1 L262.9 488.9 L265.6 488.3 L268.5 487.3 L270.1 485.4 L271.8 483.7 L273.4 481.9 L275.4 479.8 L277.3 477.8 L279.1 476.0 L281.2 474.1 L283.0 472.0 L284.5 469.7 L285.3 467.6 L286.6 465.7 L288.6 463.6 L291.0 461.5 L293.0 459.3 L294.6 457.1 L296.1 455.1 L297.9 452.7 L299.8 450.2 L301.3 447.6 L302.6 445.0 L303.2 442.4 L303.6 439.8 L304.0 437.2 L304.2 434.8 L304.8 432.2 L305.6 429.9 L307.0 427.5 L308.2 425.1 L309.9 422.6 L311.1 420.0 L311.8 417.4 L312.1 415.0 L313.2 412.6 L314.6 410.3 L316.5 407.9 L317.5 405.2 L318.8 402.4 L319.5 399.8 L320.7 397.6 L322.1 395.2 L323.5 393.1 L325.1 390.5 L326.4 388.6 L327.4 386.1 L328.0 383.6 L329.1 381.0 L330.0 378.3 L330.4 375.9 L330.8 373.3 L331.5 371.1 L332.1 368.5 L332.2 366.0 L332.8 363.3 L333.2 360.9 L334.0 358.3 L334.3 355.8 L334.6 352.7 L334.3 350.2 L334.7 347.6 L334.9 345.4 L335.7 342.8 L336.1 340.3 L337.2 337.9 L337.3 335.3 L337.6 332.8 L337.6 330.2 L337.7 327.7 L338.2 325.2 L338.7 322.7 L339.5 320.1 L339.8 317.6 L340.1 315.2 L340.6 312.5 L341.1 309.9 L341.5 307.3 L341.7 304.9 L342.5 302.7 L342.7 300.0 L343.1 297.5 L343.0 294.7 L342.8 292.1 L342.8 289.3 L343.2 286.8 L344.0 284.4 L344.9 281.5 L345.8 278.9 L346.3 276.2 L346.4 274.0 L346.0 271.2 L346.4 268.5 L346.6 265.8 L347.0 263.3 L347.3 261.0 L347.7 258.7 L347.9 256.0 L348.0 253.2 L348.0 250.6 L348.2 248.3 L348.5 246.1 L349.2 243.7 L349.5 241.6 L349.3 238.9 L349.3 236.4 L349.9 233.6 L350.5 231.1 L350.8 228.3 L351.0 225.8 L351.6 223.2 L352.2 220.7 L352.5 217.9 L352.9 215.0 L353.3 212.5 L353.5 209.9 L354.1 207.4 L354.0 205.0 L354.7 202.4 L354.6 199.9 L355.0 197.1 L354.9 194.4 L355.4 191.9 L355.5 189.2 L355.7 186.8 L355.9 184.2 L356.6 181.7 L356.9 179.1 L356.8 176.7 L356.9 174.3 L357.7 171.6 L358.0 169.0 L359.0 166.5 L358.8 164.0 L359.3 161.6 L358.9 159.0 L359.3 156.5 L359.7 153.8 L359.9 151.4 L360.6 148.7 L361.2 146.3 L361.9 143.7 L361.5 141.3 L361.6 138.8 L361.8 136.0 L362.6 133.1 L363.0 130.3 L363.2 127.8 L363.4 125.5 L363.7 122.9 L364.2 120.3 L364.7 117.6 L364.8 115.2 L364.7 112.6 L365.0 110.0 L365.6 107.2 L366.0 104.9 L366.0 102.0" stroke="#1a8c1a" stroke-width="3.8" fill="none" stroke-linejoin="round" stroke-linecap="round" /><path d="M137.0 497.0 L139.2 497.4 L141.8 497.3 L144.2 497.0 L146.3 496.8 L149.1 497.0 L151.8 497.2 L154.5 497.2 L156.6 497.0 L158.7 497.0 L161.4 496.9 L163.9 496.7 L166.9 496.7 L169.7 496.7 L172.3 496.9 L174.8 496.8 L177.2 496.7 L179.8 496.6 L182.3 496.7 L184.4 497.0 L186.8 496.7 L189.0 496.5 L191.9 496.2 L194.8 496.6 L197.6 496.4 L199.9 496.5 L202.1 496.1 L205.2 496.3 L208.0 496.2 L210.5 496.4 L212.7 496.1 L215.2 495.8 L217.6 495.7 L220.1 496.0 L222.5 496.3 L225.2 496.1 L227.7 496.1 L230.4 495.7 L232.9 495.9 L235.2 495.9 L237.6 496.2 L240.2 496.0 L243.1 495.9 L246.0 495.3 L248.8 495.2 L251.5 494.9 L253.6 494.5 L256.3 493.9 L259.2 493.2 L262.3 492.7 L264.9 491.6 L267.5 490.6 L270.0 489.8 L272.5 488.8 L275.1 487.4 L277.5 486.1 L279.8 484.8 L281.4 483.2 L283.4 481.4 L285.1 479.4 L287.1 477.4 L288.9 475.6 L291.2 473.6 L293.0 471.6 L294.9 469.5 L296.1 467.4 L297.4 465.4 L298.7 463.3 L299.9 461.2 L301.0 458.9 L302.2 456.9 L303.3 454.6 L305.2 452.1 L306.2 449.6 L307.2 447.1 L307.6 444.7 L308.6 442.3 L309.8 440.1 L311.5 437.6 L312.5 434.9 L313.6 432.3 L314.7 429.9 L315.9 427.5 L316.7 424.9 L317.8 422.3 L318.9 419.5 L319.5 416.8 L320.3 414.2 L320.8 411.7 L321.7 409.2 L322.8 406.6 L323.6 404.0 L324.8 401.4 L325.6 398.8 L326.8 396.5 L327.5 393.6 L328.2 390.7 L328.6 387.8 L329.4 385.2 L330.6 382.4 L331.5 379.6 L332.2 376.6 L332.7 373.9 L333.9 371.0 L334.5 368.4 L334.8 365.6 L334.6 363.1 L334.8 360.4 L335.2 357.8 L335.7 355.2 L336.3 353.0 L336.8 350.6 L337.6 348.0 L338.8 344.2 L340.0 340.5 L340.4 337.9 L340.9 335.4 L341.4 332.9 L342.5 330.5 L343.5 328.1 L344.1 325.6 L344.3 322.9 L344.2 320.3 L344.8 317.5 L345.3 314.9 L346.5 312.3 L346.7 310.0 L346.7 307.7 L346.9 305.2 L347.4 302.6 L348.1 299.9 L348.0 297.3 L348.1 294.7 L348.4 292.1 L348.2 289.4 L348.3 286.6 L348.5 283.9 L348.7 281.5 L349.1 278.9 L349.1 276.2 L349.1 273.4 L349.3 270.7 L349.6 268.2 L350.3 265.6 L350.2 263.1 L351.0 260.7 L351.3 258.1 L351.5 255.5 L351.3 252.9 L351.7 250.6 L352.2 248.2 L352.5 245.9 L352.9 243.3 L352.9 241.0 L353.4 238.3 L353.6 236.1 L354.1 233.2 L354.4 230.8 L354.6 227.9 L354.7 225.4 L354.9 223.0 L355.2 220.7 L355.3 218.0 L355.2 215.3 L355.4 212.9 L355.9 210.4 L356.5 207.7 L356.9 205.0 L357.2 202.4 L357.3 199.7 L357.5 197.0 L357.6 194.4 L358.3 192.3 L358.6 189.9 L359.0 187.4 L358.8 184.4 L358.9 181.7 L359.2 179.0 L359.5 176.6 L359.8 174.0 L360.2 171.8 L360.8 169.2 L361.0 166.7 L361.7 164.1 L362.2 161.7 L362.2 159.1 L361.7 156.4 L361.5 153.8 L362.4 151.6 L363.3 149.0 L363.9 146.4 L363.9 143.5 L363.9 140.8 L364.2 138.4 L364.3 135.7 L364.9 133.2 L365.1 130.6 L365.6 128.0 L365.7 125.6 L366.2 123.0 L366.9 120.6 L366.8 118.0 L367.0 115.3 L366.8 112.6 L367.6 110.0 L367.8 107.4 L367.9 104.7 L367.7 102.0" stroke="#1a8c1a" stroke-width="3.8" fill="none" stroke-linejoin="round" stroke-linecap="round" /><path d="M137.0 497.0 L139.4 496.9 L142.3 497.0 L145.0 496.7 L147.3 496.9 L149.9 496.8 L152.3 497.3 L155.1 496.9 L157.3 496.9 L160.1 496.6 L162.5 496.6 L165.4 496.6 L167.7 496.5 L170.0 496.5 L172.2 496.6 L174.6 496.8 L177.3 496.9 L179.9 496.9 L182.2 496.6 L184.9 496.4 L187.4 496.4 L189.6 496.5 L192.0 496.6 L194.6 496.5 L197.5 496.6 L200.3 496.6 L202.4 496.5 L204.9 496.2 L207.4 495.9 L210.2 495.5 L212.9 495.3 L215.2 495.1 L217.9 495.1 L220.3 495.0 L222.6 495.0 L225.3 494.7 L227.7 494.4 L230.4 494.2 L232.7 493.8 L235.5 493.6 L238.1 493.1 L240.1 493.2 L242.2 492.9 L244.9 492.8 L247.7 492.3 L250.7 492.1 L253.2 491.9 L255.5 491.7 L257.7 491.6 L260.4 491.4 L262.9 491.3 L265.2 491.1 L267.6 491.0 L270.1 490.9 L273.1 490.6 L274.9 490.2 L277.3 489.9 L279.6 489.7 L283.1 488.7 L286.5 487.8 L289.7 487.0 L292.9 486.3 L295.7 485.2 L298.9 484.4 L301.3 483.1 L303.8 482.0 L305.8 480.5 L305.5 477.8 L305.9 475.3 L306.5 472.8 L307.1 470.3 L307.5 467.7 L307.6 465.1 L308.6 468.0 L309.6 470.7 L310.2 473.4 L310.5 475.9 L312.2 474.0 L314.9 472.2 L317.5 470.2 L320.1 468.4 L321.7 465.9 L323.4 463.3 L325.0 460.6 L326.5 457.9 L327.8 455.2 L329.5 452.5 L330.8 450.0 L332.2 447.6 L333.2 445.4 L333.7 442.9 L334.4 440.9 L335.3 438.3 L336.8 435.7 L337.5 432.9 L338.5 430.3 L341.1 427.9 L343.8 425.7 L345.9 422.9 L347.7 420.0 L349.1 417.6 L350.3 415.1 L351.6 412.7 L352.4 410.0 L353.2 407.1 L354.2 404.3 L355.7 401.2 L356.2 398.7 L356.9 396.1 L357.5 393.8 L357.8 391.3 L358.4 388.8 L358.6 386.2 L359.1 383.6 L359.3 381.1 L359.4 378.8 L359.7 376.4 L360.2 373.8 L360.8 370.9 L361.8 368.3 L362.2 365.8 L362.7 363.4 L362.6 361.0 L362.8 358.5 L363.1 355.9 L363.3 353.2 L363.3 350.6 L363.6 348.1 L364.2 345.8 L364.5 343.2 L365.1 340.8 L365.1 338.3 L365.7 335.9 L366.3 333.2 L366.8 330.4 L367.2 327.9 L367.0 325.4 L367.0 323.0 L367.0 320.4 L367.1 317.9 L367.2 315.4 L367.2 313.0 L367.5 310.4 L368.2 307.7 L368.5 305.1 L369.0 302.5 L368.8 300.3 L369.6 297.5 L370.3 294.7 L370.8 292.1 L370.8 290.0" stroke="#1a8c1a" stroke-width="3.4" fill="none" stroke-linejoin="round" stroke-linecap="round" /><path d="M338.0 300.0 L338.3 297.5 L338.8 294.7 L338.9 292.3 L339.2 289.6 L339.7 286.9 L340.0 284.2 L340.4 281.4 L340.9 278.8 L341.5 276.3 L341.7 273.9 L341.6 271.3 L341.8 268.3 L342.0 265.8 L342.3 263.1 L342.8 260.8 L343.3 258.2 L343.7 255.8 L343.5 253.4 L343.7 251.1 L344.1 248.3 L344.6 245.8 L344.7 243.2 L344.6 241.0 L344.4 238.8 L344.9 236.1 L345.7 233.6 L345.9 230.9 L346.1 228.2 L346.5 225.3 L347.4 222.9 L347.6 220.6 L347.9 218.2 L347.9 215.3 L347.9 212.4 L348.1 209.7 L348.6 207.2 L349.2 205.0 L349.3 202.3 L349.4 199.6 L349.7 196.7 L350.5 194.2 L350.6 191.7 L350.9 189.2 L350.9 186.4 L351.5 183.7 L352.2 180.7 L352.8 178.0 L352.8 175.3 L352.6 172.8 L353.2 170.0 L353.8 167.5 L354.3 165.0 L354.6 162.9 L355.3 160.5 L356.3 157.7 L356.8 155.1 L357.1 152.4 L357.2 150.1 L357.8 147.5 L358.4 145.1 L359.0 142.3 L359.4 139.9 L359.6 137.6 L360.3 135.2 L360.6 132.7 L361.2 129.9 L361.1 127.5 L361.4 124.9 L361.6 122.4 L361.9 119.7 L362.2 117.1 L362.8 114.5 L363.3 112.0 L363.2 109.2 L363.1 106.5 L363.5 104.0" stroke="#1a8c1a" stroke-width="3.4" fill="none" stroke-linejoin="round" stroke-linecap="round" /><path d="M370.8 290.0 L371.1 287.3 L371.6 284.5 L371.5 281.6 L371.4 278.9 L371.2 276.3 L371.5 273.6 L371.7 270.9 L372.0 268.4 L372.3 265.9 L372.5 263.5 L373.0 260.8 L373.2 258.5 L373.7 255.7 L374.0 253.4 L374.4 250.7 L374.6 248.2 L374.7 245.5 L374.9 243.1 L375.5 240.7 L375.9 238.2 L376.7 235.6 L376.9 233.0 L377.2 230.5 L377.3 228.0 L377.6 225.5 L377.7 223.0 L378.3 220.4 L378.8 217.9 L379.6 215.5 L380.1 213.1 L380.2 210.3 L380.0 207.5 L380.2 204.7 L380.6 202.2 L381.1 199.9 L381.1 197.4 L381.4 194.9 L382.1 192.1 L382.5 189.4 L382.6 186.8 L382.7 184.2 L383.0 181.7 L383.2 179.2 L384.2 176.9 L384.8 174.6 L386.0 172.2 L386.2 169.8 L386.6 167.4 L386.6 164.9 L386.9 162.3 L386.9 159.6 L387.5 157.0 L387.4 154.6 L387.8 152.1 L387.8 149.9 L388.3 147.4 L388.6 144.8 L389.0 142.1 L389.6 139.5 L389.9 137.1 L390.1 134.5 L389.9 131.9 L390.1 129.3 L390.3 126.7 L390.8 124.1 L391.0 121.6 L390.9 119.1 L390.7 116.4 L390.5 113.8 L390.7 111.3 L391.3 108.8 L391.3 106.2 L391.6 103.4" stroke="#1a8c1a" stroke-width="3.2" fill="none" stroke-linejoin="round" stroke-linecap="round" /><path d="M140.0 495.5 L142.4 495.4 L145.1 495.5 L147.6 495.7 L149.8 495.6 L152.3 495.5 L154.8 495.3 L157.5 495.5 L159.9 495.7 L162.5 495.7 L165.3 495.7 L167.8 495.6 L170.3 495.3 L172.5 495.1 L174.7 495.2 L177.2 495.2 L180.1 495.3 L182.8 495.2 L185.2 495.3 L187.6 495.3 L189.8 495.3 L192.3 495.6 L194.8 495.6 L197.7 495.4 L200.2 495.1 L202.7 495.0 L205.1 495.1 L207.7 495.1 L210.0 495.1 L212.5 495.1 L214.7 495.0 L216.9 495.0 L219.2 494.7 L221.8 494.6 L224.9 494.6 L227.6 494.8 L230.1 495.0 L232.5 495.0 L234.8 494.9 L237.5 494.8 L239.8 494.9 L242.5 494.9 L245.1 494.9 L247.8 494.7 L250.3 494.6 L252.8 494.6 L255.2 494.8 L257.6 494.7 L260.0 494.5" stroke="#1a8c1a" stroke-width="4.5" fill="none" stroke-linejoin="round" stroke-linecap="round" /><path d="M190.0 493.0 L193.0 492.4 L195.4 492.3 L197.6 492.3 L199.7 492.0 L201.8 491.6 L204.5 490.9 L207.6 490.6 L210.3 490.3 L212.5 490.3 L215.0 490.1 L217.2 489.7 L219.9 489.4 L222.0 489.0 L224.8 488.8 L227.7 488.0 L230.0 487.5 L232.4 487.0 L234.7 487.0 L237.3 486.6 L239.8 486.3 L242.3 485.8 L244.8 485.5 L247.0 485.2 L249.5 484.9 L252.3 484.0 L255.1 483.1 L258.2 482.1 L261.0 481.0 L263.6 479.9 L265.6 479.2 L268.1 478.3 L270.2 476.7 L273.0 474.7 L275.4 473.0 L277.5 470.9 L279.3 469.5 L281.3 467.7 L283.4 465.8 L285.2 463.5 L286.8 461.2 L288.8 459.1 L291.0 457.0" stroke="#1a8c1a" stroke-width="3.6" fill="none" stroke-linejoin="round" stroke-linecap="round" /></g>
<rect x="91.9" y="656.5" width="753.7" height="561.8" fill="none" stroke="#1c1c1c" stroke-width="2.2"/>
<path d="M91.9 1204.2h5.8M91.9 1190.1h5.8M91.9 1176.1h5.8M91.9 1162.0h5.8M91.9 1148.0h11M91.9 1133.9h5.8M91.9 1119.9h5.8M91.9 1105.9h5.8M91.9 1091.8h5.8M91.9 1077.8h11M91.9 1063.7h5.8M91.9 1049.7h5.8M91.9 1035.6h5.8M91.9 1021.6h5.8M91.9 1007.6h11M91.9 993.5h5.8M91.9 979.5h5.8M91.9 965.4h5.8M91.9 951.4h5.8M91.9 937.3h11M91.9 923.3h5.8M91.9 909.3h5.8M91.9 895.2h5.8M91.9 881.2h5.8M91.9 867.1h11M91.9 853.1h5.8M91.9 839.0h5.8M91.9 825.0h5.8M91.9 811.0h5.8M91.9 796.9h11M91.9 782.9h5.8M91.9 768.8h5.8M91.9 754.8h5.8M91.9 740.7h5.8M91.9 726.7h11M91.9 712.7h5.8M91.9 698.6h5.8M91.9 684.6h5.8M91.9 670.5h5.8" stroke="#1c1c1c" stroke-width="2" fill="none"/>
<g style="font-family:'Liberation Sans',Arial,sans-serif;font-size:24px" fill="#141414"><text x="79.3" y="1224.6" text-anchor="end">5</text><text x="79.3" y="1154.4" text-anchor="end">10</text><text x="79.3" y="1084.2" text-anchor="end">15</text><text x="79.3" y="1014.0" text-anchor="end">20</text><text x="79.3" y="943.7" text-anchor="end">25</text><text x="79.3" y="873.5" text-anchor="end">30</text><text x="79.3" y="803.3" text-anchor="end">35</text><text x="79.3" y="733.1" text-anchor="end">40</text><text x="79.3" y="662.9" text-anchor="end">45</text></g>
<g style="font-family:'Liberation Sans',Arial,sans-serif;font-size:26.15px;font-weight:bold" fill="#141414"><text x="126.9" y="709.5">1 - Fresh sample - 0.6 M NaCl - 0.09~0.11 cm</text><text x="673.8" y="694.2" font-size="14.5">2</text><text x="126.9" y="747.3">2 - Fresh sample - 0.1 M NaCl - 0.09~0.11 cm</text><text x="673.8" y="732.0" font-size="14.5">2</text><text x="126.9" y="782.3">3 - Pre-passivated sample - 0.1 M NaCl</text><text x="162.8" y="821.1">- 0.01~0.03 cm</text><text x="341.4" y="805.8" font-size="14.5">2</text></g>
<g style="font-family:'Liberation Sans',Arial,sans-serif;font-size:27.5px;font-weight:bold" fill="#141414"><text x="211.4" y="1120.7">1</text><text x="463.4" y="1043.7">2</text><text x="713.6" y="703.6">3</text></g>
<defs><linearGradient id="g1" gradientUnits="userSpaceOnUse" x1="250" y1="1100" x2="436" y2="1034"><stop offset="0" stop-color="#f8cccc"/><stop offset="0.4" stop-color="#f38a8e"/><stop offset="1" stop-color="#ec1212"/></linearGradient><linearGradient id="g2" gradientUnits="userSpaceOnUse" x1="494" y1="1014" x2="701" y2="889"><stop offset="0" stop-color="#f8cccc"/><stop offset="0.4" stop-color="#f38a8e"/><stop offset="1" stop-color="#ec1212"/></linearGradient></defs>
<path d="M248.4 1100.8 L252.7 1094.6 L256.9 1089.9 L261.2 1085.5 L265.4 1081.4 L269.7 1077.5 L274.0 1073.8 L278.2 1070.4 L282.5 1067.2 L286.8 1064.2 L291.0 1061.4 L295.3 1058.8 L299.5 1056.4 L303.8 1054.2 L308.1 1052.1 L312.3 1050.2 L316.6 1048.4 L320.8 1046.8 L325.1 1045.2 L329.4 1043.9 L333.6 1042.6 L337.9 1041.4 L342.2 1040.3 L346.4 1039.3 L350.7 1038.4 L354.9 1037.6 L359.2 1036.8 L363.5 1036.0 L367.7 1035.3 L372.0 1034.6 L376.2 1034.0 L380.5 1033.3 L384.8 1032.7 L389.0 1032.0 L393.3 1031.4 L397.6 1030.7 L401.8 1030.0 L406.1 1029.2 L410.3 1028.4 L414.6 1027.5 L414.6 1017.3 L436.0 1034.2 L419.1 1058.2 L417.8 1049.1 L413.5 1049.1 L409.1 1049.1 L404.8 1049.2 L400.4 1049.3 L396.1 1049.5 L391.7 1049.7 L387.4 1050.0 L383.1 1050.4 L378.7 1050.8 L374.4 1051.3 L370.0 1051.8 L365.7 1052.4 L361.3 1053.1 L357.0 1053.8 L352.6 1054.6 L348.3 1055.5 L344.0 1056.5 L339.6 1057.5 L335.3 1058.6 L330.9 1059.8 L326.6 1061.1 L322.2 1062.5 L317.9 1064.0 L313.6 1065.5 L309.2 1067.2 L304.9 1068.9 L300.5 1070.8 L296.2 1072.7 L291.8 1074.8 L287.5 1076.9 L283.1 1079.2 L278.8 1081.6 L274.5 1084.0 L270.1 1086.6 L265.8 1089.3 L261.4 1092.2 L257.1 1095.1 L252.7 1098.2 L248.4 1100.8 Z" fill="url(#g1)"/>
<path d="M494.2 1015.8 L498.9 1004.8 L503.7 998.4 L508.4 992.4 L513.1 986.6 L517.8 981.2 L522.6 976.1 L527.3 971.2 L532.0 966.7 L536.7 962.4 L541.5 958.3 L546.2 954.5 L550.9 950.9 L555.6 947.5 L560.4 944.3 L565.1 941.3 L569.8 938.5 L574.5 935.8 L579.3 933.2 L584.0 930.8 L588.7 928.5 L593.4 926.4 L598.2 924.3 L602.9 922.2 L607.6 920.3 L612.3 918.4 L617.1 916.5 L621.8 914.7 L626.5 912.9 L631.2 911.1 L636.0 909.2 L640.7 907.4 L645.4 905.5 L650.1 903.5 L654.9 901.5 L659.6 899.4 L664.3 897.2 L669.0 894.9 L673.8 892.5 L678.5 890.0 L675.2 880.1 L700.9 890.5 L690.8 919.0 L686.3 910.5 L681.4 912.0 L676.4 913.5 L671.5 915.0 L666.6 916.5 L661.7 918.0 L656.7 919.6 L651.8 921.2 L646.9 922.8 L642.0 924.5 L637.0 926.2 L632.1 927.9 L627.2 929.7 L622.3 931.6 L617.3 933.5 L612.4 935.5 L607.5 937.6 L602.6 939.7 L597.6 941.9 L592.7 944.2 L587.8 946.6 L582.9 949.1 L577.9 951.7 L573.0 954.4 L568.1 957.2 L563.2 960.2 L558.2 963.2 L553.3 966.4 L548.4 969.7 L543.5 973.1 L538.5 976.7 L533.6 980.4 L528.7 984.2 L523.8 988.3 L518.8 992.4 L513.9 996.8 L509.0 1001.3 L504.1 1005.9 L499.1 1010.8 L494.2 1015.8 Z" fill="url(#g2)"/>
<rect x="211.9" y="1134.6" width="11.2" height="11.2" fill="#ee1111"/><rect x="211.9" y="1168.8" width="11.2" height="11.2" fill="#050505"/><rect x="211.9" y="1166.4" width="11.2" height="11.2" fill="#ff8c10"/><rect x="211.9" y="1164.3" width="11.2" height="11.2" fill="#118a11"/><rect x="211.9" y="1159.9" width="11.2" height="11.2" fill="#1111ee"/><rect x="463.4" y="1057.1" width="11.2" height="11.2" fill="#ee1111"/><rect x="463.4" y="1115.2" width="11.2" height="11.2" fill="#050505"/><rect x="463.4" y="1107.6" width="11.2" height="11.2" fill="#ff8c10"/><rect x="463.4" y="1094.0" width="11.2" height="11.2" fill="#118a11"/><rect x="463.4" y="1082.3" width="11.2" height="11.2" fill="#1111ee"/><rect x="715.2" y="718.0" width="11.2" height="11.2" fill="#ee1111"/><rect x="715.2" y="735.0" width="11.2" height="11.2" fill="#1111ee"/><rect x="715.2" y="784.1" width="11.2" height="11.2" fill="#8b1a8b"/><rect x="715.2" y="879.9" width="11.2" height="11.2" fill="#118a11"/><rect x="715.2" y="930.6" width="11.2" height="11.2" fill="#ff8c10"/><rect x="715.2" y="1002.2" width="11.2" height="11.2" fill="#050505"/>
<path d="M254.7 1110.5V1125" stroke="#2a2a2a" stroke-width="1.4"/><path d="M251.0 1123.0L258.4 1123.0L254.7 1137Z" fill="#111"/><path d="M242.5 1138.1H267" stroke="#111" stroke-width="2"/><path d="M243.2 1179.9H268" stroke="#111" stroke-width="2"/><path d="M254.7 1206.3V1193" stroke="#2a2a2a" stroke-width="1.4"/><path d="M251.0 1195.0L258.4 1195.0L254.7 1181Z" fill="#111"/><path d="M507.7 1033.1V1047.7" stroke="#2a2a2a" stroke-width="1.4"/><path d="M504.0 1045.7L511.4 1045.7L507.7 1059.7Z" fill="#111"/><path d="M495.3 1060.7H520.8" stroke="#111" stroke-width="2"/><path d="M496.1 1123.9H521.2" stroke="#111" stroke-width="2"/><path d="M507.7 1150.3V1137" stroke="#2a2a2a" stroke-width="1.4"/><path d="M504.0 1139.0L511.4 1139.0L507.7 1125Z" fill="#111"/><path d="M763 836.5V737.2" stroke="#2a2a2a" stroke-width="1.4"/><path d="M759.3 739.2L766.7 739.2L763 725.2Z" fill="#111"/><path d="M749.1 724.2H774.6" stroke="#111" stroke-width="2"/><path d="M763 906.7V997.4" stroke="#2a2a2a" stroke-width="1.4"/><path d="M759.3 995.4L766.7 995.4L763 1009.4Z" fill="#111"/><path d="M749.1 1010.4H774.5" stroke="#111" stroke-width="2"/>
<g style="font-family:'Liberation Sans',Arial,sans-serif;font-weight:bold" fill="#141414"><text x="235.4" y="1168.0" font-size="25">2.4</text><text x="278.6" y="1154.0" font-size="14">o</text><text x="288.4" y="1168.0" font-size="25">C</text></g><g style="font-family:'Liberation Sans',Arial,sans-serif;font-weight:bold" fill="#141414"><text x="490.4" y="1104.2" font-size="25">4.1</text><text x="534.0" y="1089.9" font-size="14">o</text><text x="543.9" y="1104.2" font-size="25">C</text></g><g style="font-family:'Liberation Sans',Arial,sans-serif;font-weight:bold" fill="#141414"><text x="746.4" y="878.8" font-size="25">20</text><text x="782.9" y="864.5" font-size="14">o</text><text x="792.8" y="878.8" font-size="25">C</text></g>
<text x="759.4" y="1181.2" style="font-family:'Liberation Serif','Times New Roman',serif;font-size:42.5px;font-weight:bold" fill="#141414">(b)</text>
<g transform="translate(31.6,992.6) rotate(-90)" style="font-family:'Liberation Sans',Arial,sans-serif;font-weight:bold" fill="#141414"><text x="0" y="0" font-size="31">CPT (</text><text x="83.4" y="-19" font-size="14">o</text><text x="93.3" y="0" font-size="31">C</text><text x="118.2" y="0" font-size="31">)</text></g>
<text x="205.9" y="1271.0" style="font-family:'Liberation Sans',Arial,sans-serif;font-size:30.6px;font-weight:bold" fill="#141414">Decreasing of aggressive condition</text></svg>
</body></html>
